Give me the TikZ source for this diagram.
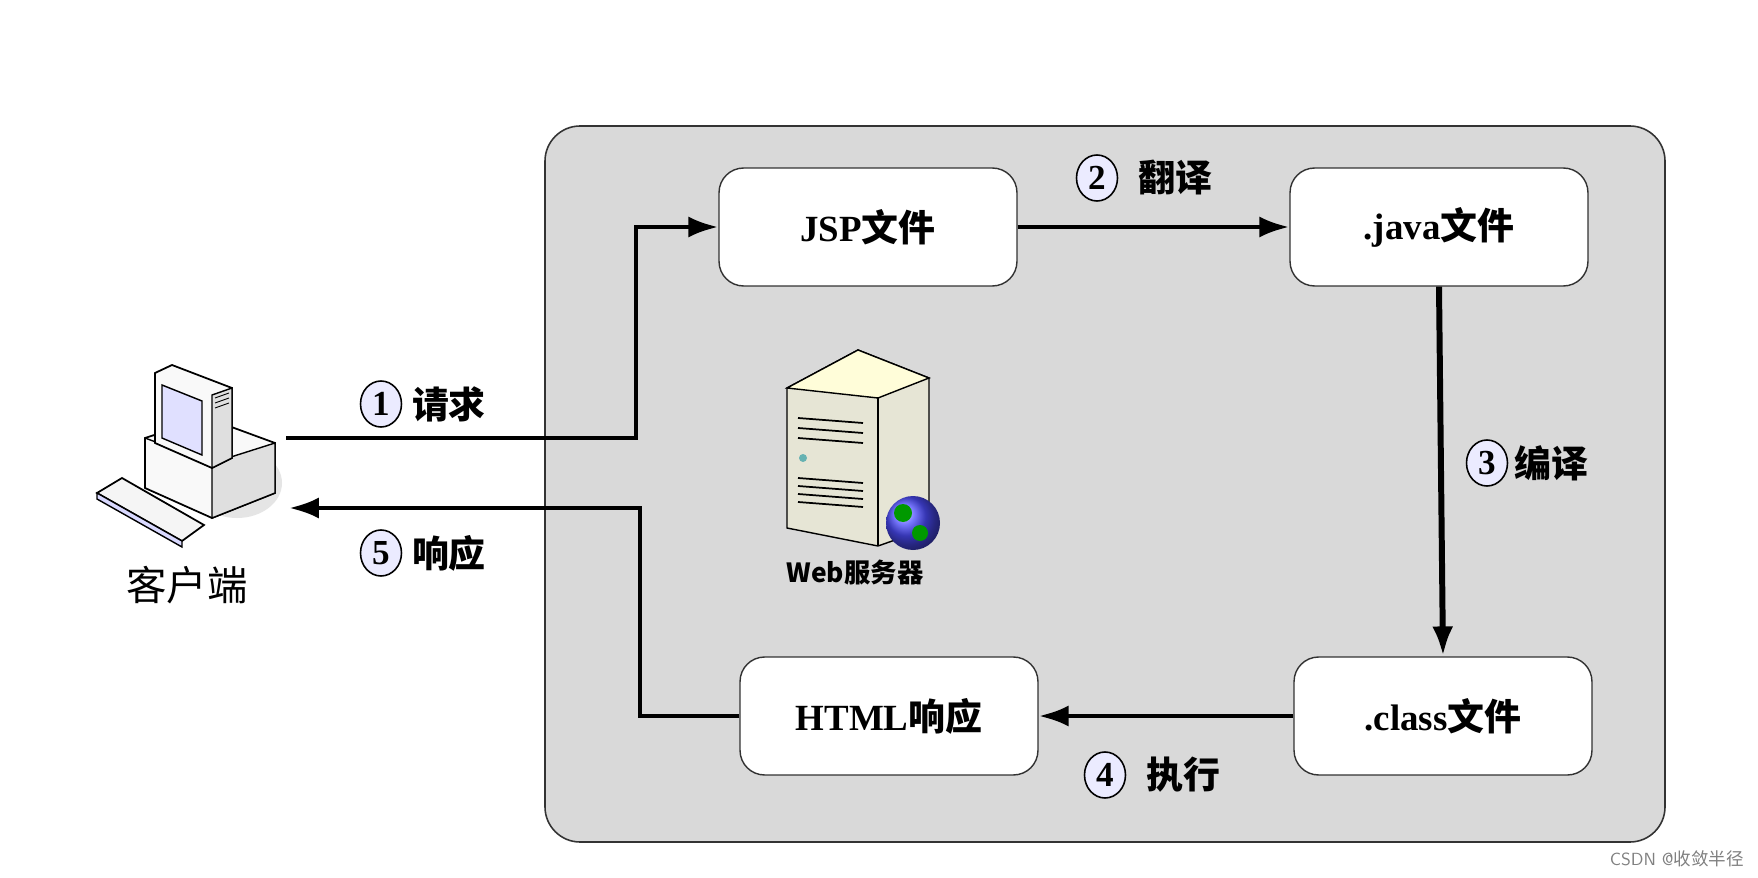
\documentclass[tikz,border=0pt]{standalone}
\usepackage{fontspec}
\setmainfont{Liberation Serif}
\newfontfamily\cjk{Noto Sans CJK SC}
\usetikzlibrary{arrows.meta,shapes.geometric}
\begin{document}
\begin{tikzpicture}[x=0.02cm,y=-0.02cm,
  box/.style={draw=black!80,fill=white,rounded corners=14pt,minimum width=5.96cm,minimum height=2.36cm,font=\fontsize{21}{24}\selectfont\bfseries,line width=0.8pt},
  arr/.style={line width=2.6pt,-{Latex[length=17pt,width=12pt]}},
  num/.style={ellipse,draw=black,fill=blue!8,line width=0.9pt,inner sep=0pt,minimum width=0.82cm,minimum height=0.92cm,font=\fontsize{20}{22}\selectfont\bfseries},
  lab/.style={font=\fontsize{21}{24}\selectfont\cjk\bfseries}]
\useasboundingbox (0,0) rectangle (1758,878);
\fill[white] (0,0) rectangle (1758,878);
\draw[fill=gray!30,draw=black!80,line width=0.9pt,rounded corners=20pt] (545,126) rectangle (1665,842);
\node[box] (jsp) at (868,227) {JSP{\cjk 文件}};
\node[box] (java) at (1439,227) {.java{\cjk 文件}};
\node[box] (class) at (1443,716) {.class{\cjk 文件}};
\node[box] (html) at (889,716) {HTML{\cjk 响应}};
% client
\coordinate (cl) at (286,438);
\coordinate (cr) at (289,508);
\begin{scope}[shift={(207,443)}]
 \fill[gray!20] (30,40) ellipse (45 and 35);
 % keyboard
 \draw[fill=gray!8,line width=1pt] (-110,50) -- (-85,35) -- (-3,82) -- (-25,98) -- cycle;
 \draw[fill=blue!15,line width=0.8pt] (-110,50) -- (-25,98) -- (-25,104) -- (-110,56) -- cycle;
 % tower base
 \draw[fill=gray!5,line width=1pt] (-62,-5) -- (0,-25) -- (68,0) -- (68,50) -- (5,75) -- (-62,45) -- cycle;
 \draw[fill=gray!25,line width=0.8pt] (5,20) -- (68,0) -- (68,50) -- (5,75) -- cycle;
 \draw[line width=0.8pt] (-62,-5) -- (5,20);
 % monitor
 \draw[fill=gray!5,line width=1pt] (-52,-70) -- (-35,-78) -- (25,-55) -- (25,15) -- (5,25) -- (-52,0) -- cycle;
 \draw[fill=gray!25,line width=0.8pt] (5,-48) -- (25,-55) -- (25,15) -- (5,25) -- cycle;
 \draw[fill=blue!12,line width=0.8pt] (-45,-58) -- (-5,-42) -- (-5,12) -- (-45,-5) -- cycle;
 \foreach \yy in {-45,-40,-35}{\draw[line width=0.5pt] (8,\yy) -- (22,\yy-5);}
\end{scope}
\node[font=\fontsize{23}{26}\selectfont\cjk] (client) at (187,585) {客户端};
% server
\begin{scope}[shift={(858,448)}]
 \draw[fill=yellow!25!gray!30,line width=0.8pt] (-71,-60) -- (0,-98) -- (71,-70) -- (71,80) -- (20,98) -- (-71,80) -- cycle;
 \draw[fill=yellow!15!white,line width=0.8pt] (-71,-60) -- (0,-98) -- (71,-70) -- (20,-50) -- cycle;
 \draw[fill=yellow!20!gray!20,line width=0.6pt] (20,-50) -- (20,98);
 \foreach \yy in {-30,-20,-10,30,38,46,54}{\draw[line width=1pt] (-60,\yy) -- (5,\yy+5);}
 \fill[teal!60] (-55,10) circle (4);
 \shade[ball color=blue!70] (55,75) circle (27);
 \fill[green!60!black] (45,65) circle (9) (62,85) circle (8);
\end{scope}
\node[font=\fontsize{15}{17}\selectfont\cjk\bfseries] (web) at (855,572) {Web服务器};
% arrows
\draw[arr] (cl) -- (636,438) |- (jsp.west);
\draw[arr] (jsp.east) -- (java.west);
\draw[arr,line width=3.4pt] (java.south) -- (class.north);
\draw[arr] (class.west) -- (html.east);
\draw[arr] (html.west) -- (640,716) -- (640,508) -- (cr);
% labels
\node[num] (n1) at (381,404) {1}; \node[lab,anchor=west] (l1) at ([xshift=2pt]n1.east) {请求};
\node[num] (n5) at (381,553) {5}; \node[lab,anchor=west] (l5) at ([xshift=2pt]n5.east) {响应};
\node[num] (n2) at (1097,178) {2}; \node[lab,anchor=west] (l2) at ([xshift=8pt]n2.east) {翻译};
\node[num] (n3) at (1487,463) {3}; \node[lab,anchor=west] (l3) at (n3.east) {编译};
\node[num] (n4) at (1105,775) {4}; \node[lab,anchor=west] (l4) at ([xshift=8pt]n4.east) {执行};
\node[font=\fontsize{10}{12}\selectfont\sffamily,text=gray,anchor=east] (wm) at (1750,859) {CSDN @{\cjk 收敛半径}};
\end{tikzpicture}
\end{document}
